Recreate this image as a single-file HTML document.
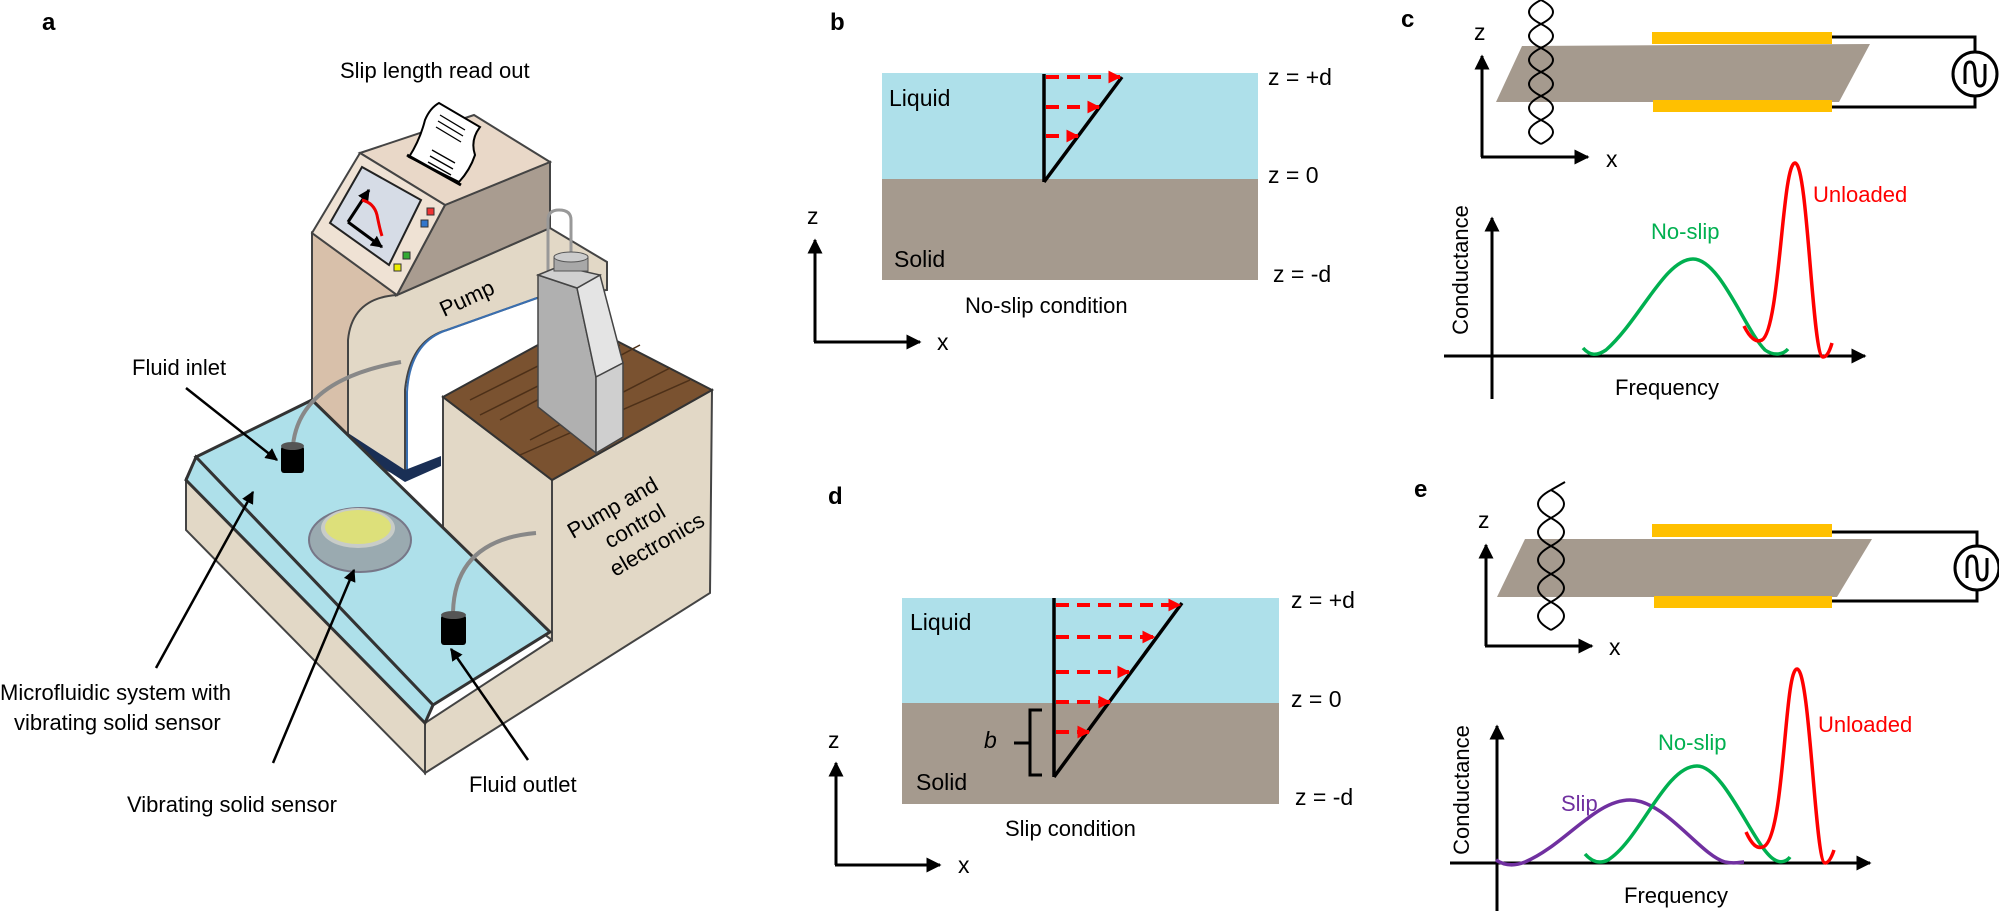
<!DOCTYPE html>
<html><head><meta charset="utf-8"><style>
html,body{margin:0;padding:0;background:#fff;}
svg{display:block;font-family:"Liberation Sans",Arial,sans-serif;}
</style></head><body>
<svg width="1999" height="911" viewBox="0 0 1999 911" xmlns="http://www.w3.org/2000/svg">
<defs>
<marker id="ah" viewBox="0 0 10 10" refX="9" refY="5" markerWidth="5" markerHeight="5" orient="auto"><path d="M0,0L10,5L0,10z" fill="#000"/></marker>
<marker id="ar" viewBox="0 0 10 10" refX="9" refY="5" markerWidth="3.2" markerHeight="3.2" orient="auto"><path d="M0,0L10,5L0,10z" fill="#f00"/></marker>
<marker id="as" viewBox="0 0 10 10" refX="9" refY="5" markerWidth="4" markerHeight="4" orient="auto"><path d="M0,0L10,5L0,10z" fill="#000"/></marker>
</defs>

<!-- ============ PANEL A ============ -->
<text x="42" y="30" font-size="24" font-weight="bold">a</text>
<text x="340" y="78" font-size="22">Slip length read out</text>

<!-- tall body left face -->
<polygon points="312,233 397,295 397,470 312,420" fill="#d8c0aa" stroke="#444" stroke-width="2"/>
<!-- arch front -->
<path d="M348,455 L348,340 Q352,298 397,295 L550,228 L607,262 L607,290 L537,298 L447,330 Q410,340 405,390 L405,477 Z" fill="#e2d8c6" stroke="#444" stroke-width="2"/>
<path d="M537,298 L447,330 Q410,342 407,392 L407,477" fill="none" stroke="#3a6fb0" stroke-width="2"/>
<polygon points="348,433 405,470 441,456 441,466 405,482 348,445" fill="#1a2f55"/>
<text transform="translate(470,305) rotate(-25)" font-size="22" text-anchor="middle">Pump</text>

<!-- printer -->
<polygon points="445,205 550,162 550,228 397,295" fill="#a99c90" stroke="#444" stroke-width="2"/>
<polygon points="360,153 474,115 550,162 445,205" fill="#e9d8c8" stroke="#444" stroke-width="2"/>
<polygon points="360,153 445,205 397,295 312,233" fill="#efe2d4" stroke="#444" stroke-width="2"/>
<polygon points="362,167 421,200 389,265 330,223" fill="#d6dce6" stroke="#222" stroke-width="2"/>
<path d="M348,222 L369,190" stroke="#000" stroke-width="3" marker-end="url(#as)"/>
<path d="M348,222 L382,247" stroke="#000" stroke-width="3" marker-end="url(#as)"/>
<path d="M362,200 Q374,203 377,215 Q380,230 382,236" fill="none" stroke="#e00" stroke-width="3"/>
<rect x="427" y="208" width="7" height="7" fill="#e33" stroke="#333"/>
<rect x="421" y="220" width="7" height="7" fill="#37c" stroke="#333"/>
<rect x="403" y="252" width="7" height="7" fill="#3a3" stroke="#333"/>
<rect x="394" y="264" width="7" height="7" fill="#ee0" stroke="#333"/>
<!-- paper -->
<path d="M409,157 Q420,140 425,120 Q430,108 439,103 L480,127 Q470,140 475,155 Q470,170 459,182 Z" fill="#fff" stroke="#000" stroke-width="2"/>
<line x1="407" y1="155" x2="461" y2="185" stroke="#000" stroke-width="3"/>
<path d="M440,115 L465,130 M438,121 L463,136 M436,127 L461,142 M432,150 L455,163 M430,156 L453,169 M428,162 L451,175" stroke="#000" stroke-width="1.3"/>

<!-- control box -->
<polygon points="552,480 712,390 710,593 425,773 425,723 552,640" fill="#e2d8c6" stroke="#444" stroke-width="2"/>
<polygon points="443,397 552,480 552,640 443,560" fill="#e2d8c6" stroke="#444" stroke-width="2"/>
<polygon points="443,397 580,322 712,390 552,480" fill="#7a5230" stroke="#333" stroke-width="2"/>
<path d="M470,400 L600,335 M500,420 L640,345 M530,440 L670,368 M480,415 L620,345 M520,455 L690,380" stroke="#4d3018" stroke-width="1.5"/>
<!-- bottle -->
<path d="M548,277 L548,220 Q548,210 559,210 Q571,210 571,220 L571,258" fill="none" stroke="#999" stroke-width="3"/>
<polygon points="538,275 577,288 596,377 596,453 538,407" fill="#b0b0b0" stroke="#444" stroke-width="1.5"/>
<polygon points="577,288 600,275 623,363 596,377" fill="#e4e4e4" stroke="#444" stroke-width="1.5"/>
<polygon points="596,377 623,363 623,437 596,453" fill="#cfcfcf" stroke="#444" stroke-width="1.5"/>
<polygon points="538,275 560,266 600,275 577,288" fill="#d0d0d0" stroke="#444" stroke-width="1.5"/>
<rect x="554" y="257" width="34" height="14" fill="#a8a8a8" stroke="#555"/>
<ellipse cx="571" cy="257" rx="17" ry="5" fill="#ccc" stroke="#555"/>
<text transform="translate(640,535) rotate(-30)" font-size="22" text-anchor="middle"><tspan x="-10" y="-30">Pump and</tspan><tspan x="0" y="-3">control</tspan><tspan x="10" y="24">electronics</tspan></text>

<!-- platform -->
<polygon points="186,480 425,723 425,773 186,530" fill="#e2d8c6" stroke="#444" stroke-width="2"/>
<polygon points="196,457 312,400 550,632 433,705" fill="#aee0ea" stroke="#333" stroke-width="3"/>
<polygon points="186,480 196,457 433,705 425,723" fill="#aee0ea" stroke="#333" stroke-width="3"/>
<!-- sensor -->
<ellipse cx="360" cy="540" rx="51" ry="32" fill="#9aaab0" stroke="#778" stroke-width="2"/>
<ellipse cx="358" cy="528" rx="37" ry="20" fill="#c8ccc8"/>
<ellipse cx="358" cy="527" rx="33" ry="17" fill="#dde07a"/>
<!-- tubes & ports -->
<path d="M293,445 Q300,380 401,362" fill="none" stroke="#888" stroke-width="4"/>
<path d="M453,612 Q455,540 536,533" fill="none" stroke="#888" stroke-width="4"/>
<rect x="281" y="446" width="23" height="27" rx="3" fill="#000"/>
<ellipse cx="292.5" cy="446" rx="11.5" ry="4" fill="#555"/>
<rect x="441" y="615" width="25" height="30" rx="3" fill="#000"/>
<ellipse cx="453.5" cy="615" rx="12.5" ry="4" fill="#555"/>

<!-- labels a -->
<text x="132" y="375" font-size="22">Fluid inlet</text>
<line x1="186" y1="388" x2="277" y2="460" stroke="#000" stroke-width="2.5" marker-end="url(#ah)"/>
<text x="0" y="700" font-size="22">Microfluidic system with</text>
<text x="14" y="730" font-size="22">vibrating solid sensor</text>
<line x1="156" y1="668" x2="253" y2="492" stroke="#000" stroke-width="2.5" marker-end="url(#ah)"/>
<text x="127" y="812" font-size="22">Vibrating solid sensor</text>
<line x1="273" y1="763" x2="354" y2="570" stroke="#000" stroke-width="2.5" marker-end="url(#ah)"/>
<text x="469" y="792" font-size="22">Fluid outlet</text>
<line x1="528" y1="760" x2="451" y2="649" stroke="#000" stroke-width="2.5" marker-end="url(#ah)"/>

<!-- ============ PANEL B ============ -->
<text x="830" y="30" font-size="24" font-weight="bold">b</text>
<rect x="882" y="73" width="376" height="106" fill="#aee0ea"/>
<rect x="882" y="179" width="376" height="101" fill="#a59a8e"/>
<text x="889" y="106" font-size="23">Liquid</text>
<text x="894" y="267" font-size="23">Solid</text>
<line x1="1044" y1="74" x2="1044" y2="182" stroke="#000" stroke-width="3.5"/>
<line x1="1044" y1="182" x2="1122" y2="77" stroke="#000" stroke-width="3.5"/>
<g stroke="#f00" stroke-width="4" stroke-dasharray="13,8" fill="none">
<line x1="1046" y1="77" x2="1120" y2="77" marker-end="url(#ar)"/>
<line x1="1046" y1="107" x2="1099" y2="107" marker-end="url(#ar)"/>
<line x1="1046" y1="136" x2="1078" y2="136" marker-end="url(#ar)"/>
</g>
<text x="1268" y="85" font-size="23">z = +d</text>
<text x="1268" y="183" font-size="23">z = 0</text>
<text x="1273" y="282" font-size="23">z = -d</text>
<text x="965" y="313" font-size="22">No-slip condition</text>
<path d="M815,342 L815,240" stroke="#000" stroke-width="3" marker-end="url(#ah)"/>
<path d="M814,342 L920,342" stroke="#000" stroke-width="3" marker-end="url(#ah)"/>
<text x="807" y="224" font-size="23">z</text>
<text x="937" y="350" font-size="23">x</text>

<!-- ============ PANEL D ============ -->
<text x="828" y="504" font-size="24" font-weight="bold">d</text>
<rect x="902" y="598" width="377" height="105" fill="#aee0ea"/>
<rect x="902" y="703" width="377" height="101" fill="#a59a8e"/>
<text x="910" y="630" font-size="23">Liquid</text>
<text x="916" y="790" font-size="23">Solid</text>
<line x1="1054" y1="598" x2="1054" y2="777" stroke="#000" stroke-width="3.5"/>
<line x1="1054" y1="777" x2="1182" y2="603" stroke="#000" stroke-width="3.5"/>
<g stroke="#f00" stroke-width="4" stroke-dasharray="13,8" fill="none">
<line x1="1056" y1="605" x2="1180" y2="605" marker-end="url(#ar)"/>
<line x1="1056" y1="637" x2="1154" y2="637" marker-end="url(#ar)"/>
<line x1="1056" y1="672" x2="1129" y2="672" marker-end="url(#ar)"/>
<line x1="1056" y1="702" x2="1110" y2="702" marker-end="url(#ar)"/>
<line x1="1056" y1="732" x2="1089" y2="732" marker-end="url(#ar)"/>
</g>
<path d="M1042,710 L1030,710 L1030,743 L1014,743 M1030,743 L1030,775 L1042,775" fill="none" stroke="#000" stroke-width="3"/>
<text x="984" y="748" font-size="23" font-style="italic">b</text>
<text x="1291" y="608" font-size="23">z = +d</text>
<text x="1291" y="707" font-size="23">z = 0</text>
<text x="1295" y="805" font-size="23">z = -d</text>
<text x="1005" y="836" font-size="22">Slip condition</text>
<path d="M836,865 L836,763" stroke="#000" stroke-width="3" marker-end="url(#ah)"/>
<path d="M835,865 L940,865" stroke="#000" stroke-width="3" marker-end="url(#ah)"/>
<text x="828" y="748" font-size="23">z</text>
<text x="958" y="873" font-size="23">x</text>

<!-- ============ PANEL C ============ -->
<text x="1401" y="27" font-size="24" font-weight="bold">c</text>
<polygon points="1496,102 1522,46 1870,44 1839,102" fill="#a59a8e"/>
<rect x="1652" y="32" width="180" height="12" fill="#ffc000"/>
<rect x="1653" y="100" width="179" height="12" fill="#ffc000"/>
<path d="M1832,37 L1975,37 L1975,52 M1975,96 L1975,107 L1832,107" fill="none" stroke="#000" stroke-width="3"/>
<circle cx="1975" cy="74" r="22" fill="#fff" stroke="#000" stroke-width="3"/>
<path d="M1965,84 L1965,70 Q1965,62 1970,62 Q1975,62 1975,74 Q1975,86 1980,86 Q1985,86 1985,78 L1985,64" fill="none" stroke="#000" stroke-width="3"/>
<g fill="none" stroke="#000" stroke-width="2">
<path d="M1541,0 q24,12 0,24 q-24,12 0,24 q24,12 0,24 q-24,12 0,24 q24,12 0,24 q-24,12 0,24"/>
<path d="M1541,0 q-24,12 0,24 q24,12 0,24 q-24,12 0,24 q24,12 0,24 q-24,12 0,24 q24,12 0,24"/>
</g>
<path d="M1482,157 L1482,56" stroke="#000" stroke-width="3" marker-end="url(#ah)"/>
<path d="M1481,157 L1588,157" stroke="#000" stroke-width="3" marker-end="url(#ah)"/>
<text x="1474" y="40" font-size="23">z</text>
<text x="1606" y="167" font-size="23">x</text>

<path d="M1492,399 L1492,218" stroke="#000" stroke-width="3" marker-end="url(#ah)"/>
<path d="M1444,356 L1865,356" stroke="#000" stroke-width="3" marker-end="url(#ah)"/>
<text transform="translate(1468,270) rotate(-90)" font-size="22" text-anchor="middle">Conductance</text>
<text x="1615" y="395" font-size="22">Frequency</text>
<path d="M1583,348 C1590,356 1597,356 1606,350 C1640,320 1665,259 1693,259 C1720,259 1745,330 1765,350 C1772,355 1782,356 1788,349" fill="none" stroke="#00b050" stroke-width="3.5"/>
<path d="M1744,326 C1750,338 1756,343 1762,340 C1780,330 1782,163 1795,163 C1808,163 1812,357 1823,357 C1827,357 1830,350 1832,343" fill="none" stroke="#f00" stroke-width="3.5"/>
<text x="1651" y="239" font-size="22" fill="#00b050">No-slip</text>
<text x="1813" y="202" font-size="22" fill="#f00">Unloaded</text>

<!-- ============ PANEL E ============ -->
<text x="1414" y="497" font-size="24" font-weight="bold">e</text>
<polygon points="1497,597 1525,539 1872,539 1837,597" fill="#a59a8e"/>
<rect x="1652" y="524" width="180" height="13" fill="#ffc000"/>
<rect x="1654" y="596" width="178" height="12" fill="#ffc000"/>
<path d="M1832,532 L1977,532 L1977,546 M1977,590 L1977,601 L1832,601" fill="none" stroke="#000" stroke-width="3"/>
<circle cx="1977" cy="568" r="22" fill="#fff" stroke="#000" stroke-width="3"/>
<path d="M1967,578 L1967,564 Q1967,556 1972,556 Q1977,556 1977,568 Q1977,580 1982,580 Q1987,580 1987,572 L1987,558" fill="none" stroke="#000" stroke-width="3"/>
<g fill="none" stroke="#000" stroke-width="2">
<path d="M1551,490 q26,14 0,28 q-26,14 0,28 q26,14 0,28 q-26,14 0,28 q26,14 0,28"/>
<path d="M1551,490 q-26,14 0,28 q26,14 0,28 q-26,14 0,28 q26,14 0,28 q-26,14 0,28"/>
<line x1="1551" y1="490" x2="1565" y2="482"/>
</g>
<path d="M1486,646 L1486,545" stroke="#000" stroke-width="3" marker-end="url(#ah)"/>
<path d="M1485,646 L1592,646" stroke="#000" stroke-width="3" marker-end="url(#ah)"/>
<text x="1478" y="528" font-size="23">z</text>
<text x="1609" y="655" font-size="23">x</text>

<path d="M1497,911 L1497,726" stroke="#000" stroke-width="3" marker-end="url(#ah)"/>
<path d="M1450,863 L1870,863" stroke="#000" stroke-width="3" marker-end="url(#ah)"/>
<text transform="translate(1469,790) rotate(-90)" font-size="22" text-anchor="middle">Conductance</text>
<text x="1624" y="903" font-size="22">Frequency</text>
<path d="M1496,860 C1505,866 1515,866 1525,862 C1565,845 1595,800 1630,800 C1665,800 1700,855 1725,862 C1735,864 1740,862 1744,862" fill="none" stroke="#7030a0" stroke-width="3.5"/>
<path d="M1585,854 C1592,862 1600,864 1608,860 C1640,840 1665,766 1697,766 C1725,766 1755,850 1775,860 C1782,864 1788,860 1790,857" fill="none" stroke="#00b050" stroke-width="3.5"/>
<path d="M1746,832 C1752,845 1757,849 1763,847 C1785,840 1784,669 1797,669 C1810,669 1815,863 1825,863 C1829,863 1832,856 1834,850" fill="none" stroke="#f00" stroke-width="3.5"/>
<text x="1561" y="811" font-size="22" fill="#7030a0">Slip</text>
<text x="1658" y="750" font-size="22" fill="#00b050">No-slip</text>
<text x="1818" y="732" font-size="22" fill="#f00">Unloaded</text>
</svg>
</body></html>
